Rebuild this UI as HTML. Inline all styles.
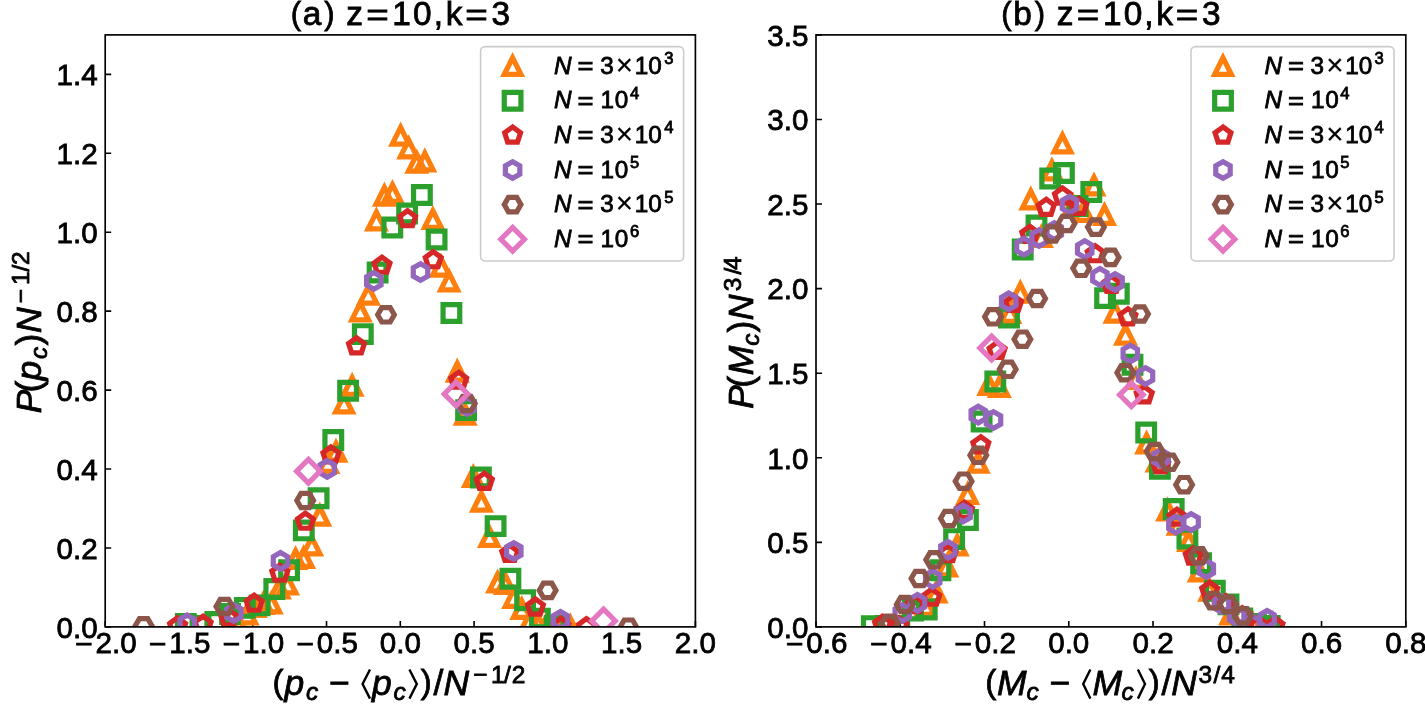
<!DOCTYPE html><html><head><meta charset="utf-8"><style>html,body{margin:0;padding:0;background:#fff;width:1425px;height:710px;overflow:hidden}svg{display:block;will-change:transform}text{font-family:"Liberation Sans",sans-serif;fill:#000;stroke:#000;stroke-width:0.8px}</style></head><body>
<svg width="1425" height="710" viewBox="0 0 1425 710">
<defs>
<path id="mtri" d="M0.00 -8.34 L-8.34 8.34 L8.34 8.34 Z" fill="none" stroke="#ff7f0e" stroke-width="5.20" stroke-linejoin="miter"/>
<path id="msq" d="M-8.34 -8.34 L8.34 -8.34 L8.34 8.34 L-8.34 8.34 Z" fill="none" stroke="#2ca02c" stroke-width="5.20" stroke-linejoin="miter"/>
<path id="mpent" d="M0.00 -8.34 L-7.93 -2.58 L-4.90 6.74 L4.90 6.74 L7.93 -2.58 Z" fill="none" stroke="#d62728" stroke-width="5.20" stroke-linejoin="miter"/>
<path id="mhexa" d="M0.00 -8.34 L-7.22 -4.17 L-7.22 4.17 L-0.00 8.34 L7.22 4.17 L7.22 -4.17 Z" fill="none" stroke="#9467bd" stroke-width="5.20" stroke-linejoin="miter"/>
<path id="mhexb" d="M8.34 -0.00 L4.17 -7.22 L-4.17 -7.22 L-8.34 -0.00 L-4.17 7.22 L4.17 7.22 Z" fill="none" stroke="#8c564b" stroke-width="5.20" stroke-linejoin="miter"/>
<path id="mdia" d="M0.00 -11.79 L11.79 0.00 L0.00 11.79 L-11.79 0.00 Z" fill="none" stroke="#e377c2" stroke-width="5.20" stroke-linejoin="miter"/>
<clipPath id="clipa"><rect x="105.20" y="34.90" width="590.20" height="592.00"/></clipPath>
<clipPath id="clipb"><rect x="816.00" y="34.90" width="589.80" height="592.00"/></clipPath>
</defs>
<rect width="1425" height="710" fill="#fff"/>
<path d="M105.20 626.90 V620.90 M178.97 626.90 V620.90 M252.75 626.90 V620.90 M326.52 626.90 V620.90 M400.30 626.90 V620.90 M474.07 626.90 V620.90 M547.85 626.90 V620.90 M621.62 626.90 V620.90 M695.40 626.90 V620.90 M105.20 626.90 H111.20 M105.20 547.97 H111.20 M105.20 469.03 H111.20 M105.20 390.10 H111.20 M105.20 311.17 H111.20 M105.20 232.23 H111.20 M105.20 153.30 H111.20 M105.20 74.37 H111.20" stroke="#000" stroke-width="1.6" fill="none"/>
<g clip-path="url(#clipa)">
<use href="#mtri" x="239.0" y="626.0"/>
<use href="#mtri" x="247.1" y="614.6"/>
<use href="#mtri" x="255.2" y="607.0"/>
<use href="#mtri" x="263.2" y="604.0"/>
<use href="#mtri" x="271.3" y="603.6"/>
<use href="#mtri" x="279.4" y="588.6"/>
<use href="#mtri" x="287.5" y="584.6"/>
<use href="#mtri" x="295.6" y="559.1"/>
<use href="#mtri" x="303.6" y="558.1"/>
<use href="#mtri" x="311.7" y="545.6"/>
<use href="#mtri" x="319.8" y="515.7"/>
<use href="#mtri" x="327.9" y="463.1"/>
<use href="#mtri" x="336.0" y="451.7"/>
<use href="#mtri" x="344.0" y="403.5"/>
<use href="#mtri" x="352.1" y="385.9"/>
<use href="#mtri" x="360.2" y="311.5"/>
<use href="#mtri" x="368.3" y="294.7"/>
<use href="#mtri" x="376.4" y="220.5"/>
<use href="#mtri" x="384.4" y="195.7"/>
<use href="#mtri" x="392.5" y="193.1"/>
<use href="#mtri" x="400.6" y="135.7"/>
<use href="#mtri" x="408.7" y="148.5"/>
<use href="#mtri" x="416.8" y="162.7"/>
<use href="#mtri" x="424.8" y="161.5"/>
<use href="#mtri" x="432.9" y="219.1"/>
<use href="#mtri" x="441.0" y="266.7"/>
<use href="#mtri" x="449.1" y="281.5"/>
<use href="#mtri" x="457.2" y="371.7"/>
<use href="#mtri" x="465.2" y="414.7"/>
<use href="#mtri" x="473.3" y="477.1"/>
<use href="#mtri" x="481.4" y="501.7"/>
<use href="#mtri" x="489.5" y="537.1"/>
<use href="#mtri" x="497.6" y="582.6"/>
<use href="#mtri" x="505.6" y="584.1"/>
<use href="#mtri" x="513.7" y="598.0"/>
<use href="#mtri" x="521.8" y="609.1"/>
<use href="#mtri" x="529.9" y="621.0"/>
<use href="#mtri" x="538.0" y="624.0"/>
<use href="#mtri" x="546.0" y="626.0"/>
<use href="#mtri" x="554.1" y="626.0"/>
<use href="#mtri" x="562.2" y="626.0"/>
<use href="#mtri" x="570.3" y="626.5"/>
<use href="#msq" x="185.8" y="623.9"/>
<use href="#msq" x="200.5" y="626.0"/>
<use href="#msq" x="215.3" y="621.9"/>
<use href="#msq" x="230.0" y="614.0"/>
<use href="#msq" x="244.8" y="607.9"/>
<use href="#msq" x="259.6" y="605.4"/>
<use href="#msq" x="274.3" y="589.0"/>
<use href="#msq" x="289.1" y="570.2"/>
<use href="#msq" x="303.8" y="530.4"/>
<use href="#msq" x="318.6" y="498.3"/>
<use href="#msq" x="333.3" y="440.0"/>
<use href="#msq" x="348.1" y="390.8"/>
<use href="#msq" x="362.8" y="334.1"/>
<use href="#msq" x="377.6" y="272.5"/>
<use href="#msq" x="392.3" y="227.5"/>
<use href="#msq" x="407.1" y="213.5"/>
<use href="#msq" x="421.9" y="195.0"/>
<use href="#msq" x="436.6" y="239.5"/>
<use href="#msq" x="451.4" y="313.0"/>
<use href="#msq" x="466.1" y="410.1"/>
<use href="#msq" x="480.9" y="477.5"/>
<use href="#msq" x="495.6" y="526.1"/>
<use href="#msq" x="510.4" y="578.7"/>
<use href="#msq" x="525.1" y="600.3"/>
<use href="#msq" x="539.9" y="618.6"/>
<use href="#msq" x="554.7" y="626.0"/>
<use href="#mpent" x="177.6" y="626.0"/>
<use href="#mpent" x="203.1" y="624.5"/>
<use href="#mpent" x="228.7" y="618.0"/>
<use href="#mpent" x="254.2" y="603.5"/>
<use href="#mpent" x="279.8" y="573.5"/>
<use href="#mpent" x="305.4" y="521.5"/>
<use href="#mpent" x="330.9" y="455.2"/>
<use href="#mpent" x="356.5" y="346.1"/>
<use href="#mpent" x="382.0" y="265.5"/>
<use href="#mpent" x="407.6" y="219.0"/>
<use href="#mpent" x="433.2" y="260.0"/>
<use href="#mpent" x="458.7" y="380.5"/>
<use href="#mpent" x="484.3" y="481.6"/>
<use href="#mpent" x="509.8" y="553.7"/>
<use href="#mpent" x="535.4" y="607.3"/>
<use href="#mpent" x="561.0" y="626.5"/>
<use href="#mpent" x="586.5" y="627.0"/>
<use href="#mhexa" x="187.2" y="623.3"/>
<use href="#mhexa" x="233.9" y="613.0"/>
<use href="#mhexa" x="280.5" y="560.8"/>
<use href="#mhexa" x="327.2" y="468.8"/>
<use href="#mhexa" x="373.8" y="280.8"/>
<use href="#mhexa" x="420.5" y="272.0"/>
<use href="#mhexa" x="467.2" y="406.0"/>
<use href="#mhexa" x="513.8" y="551.0"/>
<use href="#mhexa" x="560.5" y="619.8"/>
<use href="#mhexb" x="143.6" y="625.8"/>
<use href="#mhexb" x="224.4" y="606.5"/>
<use href="#mhexb" x="305.2" y="500.5"/>
<use href="#mhexb" x="386.0" y="314.8"/>
<use href="#mhexb" x="466.8" y="403.5"/>
<use href="#mhexb" x="547.6" y="590.4"/>
<use href="#mhexb" x="628.4" y="627.2"/>
<use href="#mdia" x="308.4" y="471.2"/>
<use href="#mdia" x="456.0" y="394.0"/>
<use href="#mdia" x="603.5" y="621.0"/>
</g>
<rect x="105.20" y="34.90" width="590.20" height="592.00" fill="none" stroke="#000" stroke-width="1.67" stroke-linejoin="miter"/>
<text x="83.80" y="654" font-size="29.6" text-anchor="middle" textLength="17.6" lengthAdjust="spacingAndGlyphs">−</text>
<text x="116.10" y="653.4" font-size="29.6" text-anchor="middle">2.0</text>
<text x="157.57" y="654" font-size="29.6" text-anchor="middle" textLength="17.6" lengthAdjust="spacingAndGlyphs">−</text>
<text x="189.88" y="653.4" font-size="29.6" text-anchor="middle">1.5</text>
<text x="231.35" y="654" font-size="29.6" text-anchor="middle" textLength="17.6" lengthAdjust="spacingAndGlyphs">−</text>
<text x="263.65" y="653.4" font-size="29.6" text-anchor="middle">1.0</text>
<text x="305.12" y="654" font-size="29.6" text-anchor="middle" textLength="17.6" lengthAdjust="spacingAndGlyphs">−</text>
<text x="337.42" y="653.4" font-size="29.6" text-anchor="middle">0.5</text>
<text x="400.30" y="653.4" font-size="29.6" text-anchor="middle">0.0</text>
<text x="474.07" y="653.4" font-size="29.6" text-anchor="middle">0.5</text>
<text x="547.85" y="653.4" font-size="29.6" text-anchor="middle">1.0</text>
<text x="621.62" y="653.4" font-size="29.6" text-anchor="middle">1.5</text>
<text x="695.40" y="653.4" font-size="29.6" text-anchor="middle">2.0</text>
<text x="97.70" y="637.70" font-size="29.6" text-anchor="end">0.0</text>
<text x="97.70" y="558.77" font-size="29.6" text-anchor="end">0.2</text>
<text x="97.70" y="479.83" font-size="29.6" text-anchor="end">0.4</text>
<text x="97.70" y="400.90" font-size="29.6" text-anchor="end">0.6</text>
<text x="97.70" y="321.97" font-size="29.6" text-anchor="end">0.8</text>
<text x="97.70" y="243.03" font-size="29.6" text-anchor="end">1.0</text>
<text x="97.70" y="164.10" font-size="29.6" text-anchor="end">1.2</text>
<text x="97.70" y="85.17" font-size="29.6" text-anchor="end">1.4</text>
<path d="M816.00 626.90 V620.90 M900.26 626.90 V620.90 M984.51 626.90 V620.90 M1068.77 626.90 V620.90 M1153.03 626.90 V620.90 M1237.29 626.90 V620.90 M1321.54 626.90 V620.90 M1405.80 626.90 V620.90 M816.00 626.90 H822.00 M816.00 542.33 H822.00 M816.00 457.76 H822.00 M816.00 373.19 H822.00 M816.00 288.61 H822.00 M816.00 204.04 H822.00 M816.00 119.47 H822.00 M816.00 34.90 H822.00" stroke="#000" stroke-width="1.6" fill="none"/>
<g clip-path="url(#clipb)">
<use href="#mtri" x="925.6" y="606.0"/>
<use href="#mtri" x="936.2" y="592.6"/>
<use href="#mtri" x="946.7" y="566.6"/>
<use href="#mtri" x="957.2" y="545.5"/>
<use href="#mtri" x="967.7" y="494.1"/>
<use href="#mtri" x="978.2" y="462.7"/>
<use href="#mtri" x="988.8" y="385.1"/>
<use href="#mtri" x="999.3" y="387.1"/>
<use href="#mtri" x="1009.8" y="313.1"/>
<use href="#mtri" x="1020.3" y="292.7"/>
<use href="#mtri" x="1030.8" y="199.5"/>
<use href="#mtri" x="1041.4" y="237.1"/>
<use href="#mtri" x="1051.9" y="170.5"/>
<use href="#mtri" x="1062.4" y="143.5"/>
<use href="#mtri" x="1072.9" y="206.0"/>
<use href="#mtri" x="1083.4" y="212.0"/>
<use href="#mtri" x="1094.0" y="185.6"/>
<use href="#mtri" x="1104.5" y="215.0"/>
<use href="#mtri" x="1115.0" y="312.7"/>
<use href="#mtri" x="1125.5" y="334.7"/>
<use href="#mtri" x="1136.0" y="379.1"/>
<use href="#mtri" x="1146.6" y="443.5"/>
<use href="#mtri" x="1157.1" y="461.5"/>
<use href="#mtri" x="1167.6" y="510.5"/>
<use href="#mtri" x="1178.1" y="524.7"/>
<use href="#mtri" x="1188.6" y="541.1"/>
<use href="#mtri" x="1199.2" y="571.5"/>
<use href="#mtri" x="1209.7" y="590.7"/>
<use href="#mtri" x="1230.7" y="614.6"/>
<use href="#mtri" x="1251.8" y="622.0"/>
<use href="#mtri" x="1272.8" y="624.0"/>
<use href="#msq" x="871.8" y="626.1"/>
<use href="#msq" x="885.5" y="626.0"/>
<use href="#msq" x="899.3" y="626.0"/>
<use href="#msq" x="913.0" y="610.5"/>
<use href="#msq" x="926.7" y="609.5"/>
<use href="#msq" x="940.4" y="570.3"/>
<use href="#msq" x="954.1" y="539.1"/>
<use href="#msq" x="967.9" y="520.0"/>
<use href="#msq" x="981.6" y="421.5"/>
<use href="#msq" x="995.3" y="381.5"/>
<use href="#msq" x="1009.0" y="317.5"/>
<use href="#msq" x="1022.7" y="249.5"/>
<use href="#msq" x="1036.5" y="225.5"/>
<use href="#msq" x="1050.2" y="178.5"/>
<use href="#msq" x="1063.9" y="173.0"/>
<use href="#msq" x="1077.6" y="206.0"/>
<use href="#msq" x="1091.3" y="192.0"/>
<use href="#msq" x="1105.1" y="298.1"/>
<use href="#msq" x="1118.8" y="293.7"/>
<use href="#msq" x="1132.5" y="364.8"/>
<use href="#msq" x="1146.2" y="432.5"/>
<use href="#msq" x="1159.9" y="468.7"/>
<use href="#msq" x="1173.7" y="509.0"/>
<use href="#msq" x="1187.4" y="538.5"/>
<use href="#msq" x="1201.1" y="563.3"/>
<use href="#msq" x="1214.8" y="590.7"/>
<use href="#msq" x="1228.5" y="604.4"/>
<use href="#msq" x="1242.3" y="618.4"/>
<use href="#msq" x="1256.0" y="624.0"/>
<use href="#msq" x="1269.7" y="626.0"/>
<use href="#mpent" x="882.6" y="624.5"/>
<use href="#mpent" x="899.0" y="626.0"/>
<use href="#mpent" x="915.4" y="605.0"/>
<use href="#mpent" x="931.7" y="597.5"/>
<use href="#mpent" x="948.0" y="554.0"/>
<use href="#mpent" x="964.4" y="510.6"/>
<use href="#mpent" x="980.8" y="445.1"/>
<use href="#mpent" x="997.1" y="350.7"/>
<use href="#mpent" x="1013.5" y="303.7"/>
<use href="#mpent" x="1029.8" y="234.6"/>
<use href="#mpent" x="1046.2" y="207.6"/>
<use href="#mpent" x="1062.5" y="196.3"/>
<use href="#mpent" x="1078.8" y="206.6"/>
<use href="#mpent" x="1095.2" y="254.0"/>
<use href="#mpent" x="1111.5" y="284.7"/>
<use href="#mpent" x="1127.9" y="317.1"/>
<use href="#mpent" x="1144.2" y="395.1"/>
<use href="#mpent" x="1160.6" y="465.0"/>
<use href="#mpent" x="1177.0" y="517.5"/>
<use href="#mpent" x="1193.3" y="556.3"/>
<use href="#mpent" x="1209.7" y="590.5"/>
<use href="#mpent" x="1226.0" y="604.0"/>
<use href="#mpent" x="1242.3" y="616.0"/>
<use href="#mpent" x="1258.7" y="626.0"/>
<use href="#mpent" x="1275.0" y="626.0"/>
<use href="#mhexa" x="902.3" y="613.0"/>
<use href="#mhexa" x="917.5" y="602.8"/>
<use href="#mhexa" x="932.7" y="578.8"/>
<use href="#mhexa" x="947.9" y="549.9"/>
<use href="#mhexa" x="963.1" y="513.5"/>
<use href="#mhexa" x="978.3" y="414.6"/>
<use href="#mhexa" x="993.5" y="420.0"/>
<use href="#mhexa" x="1008.7" y="301.3"/>
<use href="#mhexa" x="1023.9" y="246.6"/>
<use href="#mhexa" x="1039.1" y="238.0"/>
<use href="#mhexa" x="1054.3" y="231.0"/>
<use href="#mhexa" x="1069.5" y="204.5"/>
<use href="#mhexa" x="1084.7" y="249.2"/>
<use href="#mhexa" x="1099.9" y="276.8"/>
<use href="#mhexa" x="1115.1" y="282.0"/>
<use href="#mhexa" x="1130.3" y="353.5"/>
<use href="#mhexa" x="1145.5" y="376.0"/>
<use href="#mhexa" x="1160.7" y="458.0"/>
<use href="#mhexa" x="1175.9" y="524.6"/>
<use href="#mhexa" x="1191.1" y="522.0"/>
<use href="#mhexa" x="1206.3" y="569.0"/>
<use href="#mhexa" x="1221.5" y="604.0"/>
<use href="#mhexa" x="1236.7" y="616.0"/>
<use href="#mhexa" x="1251.9" y="624.0"/>
<use href="#mhexa" x="1267.1" y="618.8"/>
<use href="#mhexb" x="890.1" y="623.3"/>
<use href="#mhexb" x="904.8" y="604.5"/>
<use href="#mhexb" x="919.5" y="578.5"/>
<use href="#mhexb" x="934.2" y="559.8"/>
<use href="#mhexb" x="948.9" y="518.5"/>
<use href="#mhexb" x="963.6" y="481.2"/>
<use href="#mhexb" x="978.3" y="455.3"/>
<use href="#mhexb" x="993.0" y="316.8"/>
<use href="#mhexb" x="1007.7" y="369.3"/>
<use href="#mhexb" x="1022.4" y="339.2"/>
<use href="#mhexb" x="1037.1" y="298.5"/>
<use href="#mhexb" x="1051.8" y="234.0"/>
<use href="#mhexb" x="1066.5" y="223.5"/>
<use href="#mhexb" x="1081.2" y="268.3"/>
<use href="#mhexb" x="1095.9" y="227.1"/>
<use href="#mhexb" x="1110.6" y="257.4"/>
<use href="#mhexb" x="1125.3" y="372.7"/>
<use href="#mhexb" x="1140.0" y="314.0"/>
<use href="#mhexb" x="1154.7" y="451.5"/>
<use href="#mhexb" x="1169.4" y="462.3"/>
<use href="#mhexb" x="1184.1" y="484.7"/>
<use href="#mhexb" x="1198.8" y="555.8"/>
<use href="#mhexb" x="1213.5" y="600.6"/>
<use href="#mhexb" x="1228.2" y="604.4"/>
<use href="#mhexb" x="1242.9" y="615.8"/>
<use href="#mdia" x="991.6" y="348.0"/>
<use href="#mdia" x="1131.4" y="394.8"/>
</g>
<rect x="816.00" y="34.90" width="589.80" height="592.00" fill="none" stroke="#000" stroke-width="1.67" stroke-linejoin="miter"/>
<text x="794.60" y="654" font-size="29.6" text-anchor="middle" textLength="17.6" lengthAdjust="spacingAndGlyphs">−</text>
<text x="826.90" y="653.4" font-size="29.6" text-anchor="middle">0.6</text>
<text x="878.86" y="654" font-size="29.6" text-anchor="middle" textLength="17.6" lengthAdjust="spacingAndGlyphs">−</text>
<text x="911.16" y="653.4" font-size="29.6" text-anchor="middle">0.4</text>
<text x="963.11" y="654" font-size="29.6" text-anchor="middle" textLength="17.6" lengthAdjust="spacingAndGlyphs">−</text>
<text x="995.41" y="653.4" font-size="29.6" text-anchor="middle">0.2</text>
<text x="1068.77" y="653.4" font-size="29.6" text-anchor="middle">0.0</text>
<text x="1153.03" y="653.4" font-size="29.6" text-anchor="middle">0.2</text>
<text x="1237.29" y="653.4" font-size="29.6" text-anchor="middle">0.4</text>
<text x="1321.54" y="653.4" font-size="29.6" text-anchor="middle">0.6</text>
<text x="1405.80" y="653.4" font-size="29.6" text-anchor="middle">0.8</text>
<text x="808.50" y="637.70" font-size="29.6" text-anchor="end">0.0</text>
<text x="808.50" y="553.13" font-size="29.6" text-anchor="end">0.5</text>
<text x="808.50" y="468.56" font-size="29.6" text-anchor="end">1.0</text>
<text x="808.50" y="383.99" font-size="29.6" text-anchor="end">1.5</text>
<text x="808.50" y="299.41" font-size="29.6" text-anchor="end">2.0</text>
<text x="808.50" y="214.84" font-size="29.6" text-anchor="end">2.5</text>
<text x="808.50" y="130.27" font-size="29.6" text-anchor="end">3.0</text>
<text x="808.50" y="45.70" font-size="29.6" text-anchor="end">3.5</text>
<text x="295.90" y="23.80" font-size="31.00" text-anchor="middle">(</text>
<text x="329.40" y="23.80" font-size="31.00" text-anchor="middle">)</text>
<text x="312.05" y="25.00" font-size="33.40" text-anchor="middle">a</text>
<text x="354.60" y="25.00" font-size="33.40" text-anchor="middle">z</text>
<text x="401.65" y="25.00" font-size="33.40" text-anchor="middle">1</text>
<text x="422.40" y="25.00" font-size="33.40" text-anchor="middle">0</text>
<text x="438.35" y="25.00" font-size="33.40" text-anchor="middle">,</text>
<text x="454.05" y="25.00" font-size="33.40" text-anchor="middle">k</text>
<text x="500.70" y="25.00" font-size="33.40" text-anchor="middle">3</text>
<text x="377.40" y="24.50" font-size="30.00" text-anchor="middle" textLength="22.50" lengthAdjust="spacingAndGlyphs">=</text>
<text x="476.50" y="24.50" font-size="30.00" text-anchor="middle" textLength="22.50" lengthAdjust="spacingAndGlyphs">=</text>
<text x="1006.50" y="23.80" font-size="31.00" text-anchor="middle">(</text>
<text x="1040.00" y="23.80" font-size="31.00" text-anchor="middle">)</text>
<text x="1022.65" y="25.00" font-size="33.40" text-anchor="middle">b</text>
<text x="1065.20" y="25.00" font-size="33.40" text-anchor="middle">z</text>
<text x="1112.25" y="25.00" font-size="33.40" text-anchor="middle">1</text>
<text x="1133.00" y="25.00" font-size="33.40" text-anchor="middle">0</text>
<text x="1148.95" y="25.00" font-size="33.40" text-anchor="middle">,</text>
<text x="1164.65" y="25.00" font-size="33.40" text-anchor="middle">k</text>
<text x="1211.30" y="25.00" font-size="33.40" text-anchor="middle">3</text>
<text x="1088.00" y="24.50" font-size="30.00" text-anchor="middle" textLength="22.50" lengthAdjust="spacingAndGlyphs">=</text>
<text x="1187.10" y="24.50" font-size="30.00" text-anchor="middle" textLength="22.50" lengthAdjust="spacingAndGlyphs">=</text>
<text x="278.00" y="693.30" font-size="33.00" text-anchor="middle">(</text>
<text x="294.35" y="694.80" font-size="35.50" text-anchor="middle" font-style="italic">p</text>
<text x="312.10" y="700.30" font-size="24.50" text-anchor="middle" font-style="italic">c</text>
<text x="339.40" y="694.80" font-size="35.50" text-anchor="middle">−</text>
<path d="M370.00 669.50 L362.60 684.05 L370.00 698.60" fill="none" stroke="#000" stroke-width="2.40" stroke-linejoin="miter"/>
<text x="381.95" y="694.80" font-size="35.50" text-anchor="middle" font-style="italic">p</text>
<text x="399.70" y="700.30" font-size="24.50" text-anchor="middle" font-style="italic">c</text>
<path d="M409.40 669.50 L416.80 684.05 L409.40 698.60" fill="none" stroke="#000" stroke-width="2.40" stroke-linejoin="miter"/>
<text x="426.30" y="693.30" font-size="33.00" text-anchor="middle">)</text>
<text x="438.35" y="694.80" font-size="35.50" text-anchor="middle">/</text>
<text x="456.30" y="694.80" font-size="35.50" text-anchor="middle" font-style="italic">N</text>
<text x="480.50" y="682.50" font-size="24.50" text-anchor="middle">−</text>
<text x="497.80" y="682.50" font-size="24.50" text-anchor="middle">1</text>
<text x="507.50" y="682.50" font-size="24.50" text-anchor="middle">/</text>
<text x="518.65" y="682.50" font-size="24.50" text-anchor="middle">2</text>
<text x="990.85" y="693.30" font-size="33.00" text-anchor="middle">(</text>
<text x="1011.70" y="694.80" font-size="35.50" text-anchor="middle" font-style="italic">M</text>
<text x="1032.55" y="700.30" font-size="24.50" text-anchor="middle" font-style="italic">c</text>
<text x="1059.80" y="694.80" font-size="35.50" text-anchor="middle">−</text>
<path d="M1090.40 669.50 L1083.20 684.05 L1090.40 698.60" fill="none" stroke="#000" stroke-width="2.40" stroke-linejoin="miter"/>
<text x="1107.25" y="694.80" font-size="35.50" text-anchor="middle" font-style="italic">M</text>
<text x="1127.70" y="700.30" font-size="24.50" text-anchor="middle" font-style="italic">c</text>
<path d="M1137.90 669.50 L1145.00 684.05 L1137.90 698.60" fill="none" stroke="#000" stroke-width="2.40" stroke-linejoin="miter"/>
<text x="1154.30" y="693.30" font-size="33.00" text-anchor="middle">)</text>
<text x="1166.35" y="694.80" font-size="35.50" text-anchor="middle">/</text>
<text x="1184.10" y="694.80" font-size="35.50" text-anchor="middle" font-style="italic">N</text>
<text x="1205.40" y="682.50" font-size="24.50" text-anchor="middle">3</text>
<text x="1217.00" y="682.50" font-size="24.50" text-anchor="middle">/</text>
<text x="1228.15" y="682.50" font-size="24.50" text-anchor="middle">4</text>
<g transform="translate(41.30 331.00) rotate(-90)">
<text x="-70.30" y="0.00" font-size="35.50" text-anchor="middle" font-style="italic">P</text>
<text x="-55.55" y="0.00" font-size="35.50" text-anchor="middle">(</text>
<text x="-39.70" y="0.00" font-size="35.50" text-anchor="middle" font-style="italic">p</text>
<text x="-21.75" y="5.50" font-size="24.50" text-anchor="middle" font-style="italic">c</text>
<text x="-8.70" y="0.00" font-size="35.50" text-anchor="middle">)</text>
<text x="10.75" y="0.00" font-size="35.50" text-anchor="middle" font-style="italic">N</text>
<text x="34.80" y="-12.00" font-size="24.50" text-anchor="middle">−</text>
<text x="52.95" y="-12.00" font-size="24.50" text-anchor="middle">1</text>
<text x="63.00" y="-12.00" font-size="24.50" text-anchor="middle">/</text>
<text x="72.95" y="-12.00" font-size="24.50" text-anchor="middle">2</text>
</g>
<g transform="translate(753.20 331.00) rotate(-90)">
<text x="-65.80" y="0.00" font-size="35.50" text-anchor="middle" font-style="italic">P</text>
<text x="-50.80" y="0.00" font-size="35.50" text-anchor="middle">(</text>
<text x="-29.45" y="0.00" font-size="35.50" text-anchor="middle" font-style="italic">M</text>
<text x="-8.60" y="5.50" font-size="24.50" text-anchor="middle" font-style="italic">c</text>
<text x="4.50" y="0.00" font-size="35.50" text-anchor="middle">)</text>
<text x="23.55" y="0.00" font-size="35.50" text-anchor="middle" font-style="italic">N</text>
<text x="46.65" y="-12.50" font-size="24.50" text-anchor="middle">3</text>
<text x="59.90" y="-12.50" font-size="24.50" text-anchor="middle">/</text>
<text x="67.90" y="-12.50" font-size="24.50" text-anchor="middle">4</text>
</g>
<rect x="480.60" y="46.6" width="203.0" height="214.4" rx="4.5" ry="4.5" fill="#fff" fill-opacity="0.8" stroke="#cccccc" stroke-width="1.6"/>
<use href="#mtri" x="512.60" y="66.10"/>
<text x="562.75" y="73.70" font-size="24.30" text-anchor="middle" font-style="italic">N</text>
<text x="585.60" y="74.10" font-size="24.50" text-anchor="middle" textLength="16.00" lengthAdjust="spacingAndGlyphs">=</text>
<text x="606.95" y="73.70" font-size="24.30" text-anchor="middle">3</text>
<text x="624.40" y="74.50" font-size="29.50" text-anchor="middle" style="stroke-width:0.2px">×</text>
<text x="641.60" y="73.70" font-size="24.30" text-anchor="middle">1</text>
<text x="655.05" y="73.70" font-size="24.30" text-anchor="middle">0</text>
<text x="668.75" y="64.10" font-size="16.60" text-anchor="middle">3</text>
<use href="#msq" x="512.60" y="100.73"/>
<text x="562.75" y="108.33" font-size="24.30" text-anchor="middle" font-style="italic">N</text>
<text x="585.60" y="108.73" font-size="24.50" text-anchor="middle" textLength="16.00" lengthAdjust="spacingAndGlyphs">=</text>
<text x="607.35" y="108.33" font-size="24.30" text-anchor="middle">1</text>
<text x="621.60" y="108.33" font-size="24.30" text-anchor="middle">0</text>
<text x="634.50" y="98.73" font-size="16.60" text-anchor="middle">4</text>
<use href="#mpent" x="512.60" y="135.36"/>
<text x="562.75" y="142.96" font-size="24.30" text-anchor="middle" font-style="italic">N</text>
<text x="585.60" y="143.36" font-size="24.50" text-anchor="middle" textLength="16.00" lengthAdjust="spacingAndGlyphs">=</text>
<text x="606.95" y="142.96" font-size="24.30" text-anchor="middle">3</text>
<text x="624.40" y="143.76" font-size="29.50" text-anchor="middle" style="stroke-width:0.2px">×</text>
<text x="641.60" y="142.96" font-size="24.30" text-anchor="middle">1</text>
<text x="655.05" y="142.96" font-size="24.30" text-anchor="middle">0</text>
<text x="668.75" y="133.36" font-size="16.60" text-anchor="middle">4</text>
<use href="#mhexa" x="512.60" y="169.99"/>
<text x="562.75" y="177.59" font-size="24.30" text-anchor="middle" font-style="italic">N</text>
<text x="585.60" y="177.99" font-size="24.50" text-anchor="middle" textLength="16.00" lengthAdjust="spacingAndGlyphs">=</text>
<text x="607.35" y="177.59" font-size="24.30" text-anchor="middle">1</text>
<text x="621.60" y="177.59" font-size="24.30" text-anchor="middle">0</text>
<text x="634.50" y="167.99" font-size="16.60" text-anchor="middle">5</text>
<use href="#mhexb" x="512.60" y="204.62"/>
<text x="562.75" y="212.22" font-size="24.30" text-anchor="middle" font-style="italic">N</text>
<text x="585.60" y="212.62" font-size="24.50" text-anchor="middle" textLength="16.00" lengthAdjust="spacingAndGlyphs">=</text>
<text x="606.95" y="212.22" font-size="24.30" text-anchor="middle">3</text>
<text x="624.40" y="213.02" font-size="29.50" text-anchor="middle" style="stroke-width:0.2px">×</text>
<text x="641.60" y="212.22" font-size="24.30" text-anchor="middle">1</text>
<text x="655.05" y="212.22" font-size="24.30" text-anchor="middle">0</text>
<text x="668.75" y="202.62" font-size="16.60" text-anchor="middle">5</text>
<use href="#mdia" x="512.60" y="239.25"/>
<text x="562.75" y="246.85" font-size="24.30" text-anchor="middle" font-style="italic">N</text>
<text x="585.60" y="247.25" font-size="24.50" text-anchor="middle" textLength="16.00" lengthAdjust="spacingAndGlyphs">=</text>
<text x="607.35" y="246.85" font-size="24.30" text-anchor="middle">1</text>
<text x="621.60" y="246.85" font-size="24.30" text-anchor="middle">0</text>
<text x="634.50" y="237.25" font-size="16.60" text-anchor="middle">6</text>
<rect x="1191.00" y="46.6" width="203.0" height="214.4" rx="4.5" ry="4.5" fill="#fff" fill-opacity="0.8" stroke="#cccccc" stroke-width="1.6"/>
<use href="#mtri" x="1223.00" y="66.10"/>
<text x="1273.15" y="73.70" font-size="24.30" text-anchor="middle" font-style="italic">N</text>
<text x="1296.00" y="74.10" font-size="24.50" text-anchor="middle" textLength="16.00" lengthAdjust="spacingAndGlyphs">=</text>
<text x="1317.35" y="73.70" font-size="24.30" text-anchor="middle">3</text>
<text x="1334.80" y="74.50" font-size="29.50" text-anchor="middle" style="stroke-width:0.2px">×</text>
<text x="1352.00" y="73.70" font-size="24.30" text-anchor="middle">1</text>
<text x="1365.45" y="73.70" font-size="24.30" text-anchor="middle">0</text>
<text x="1379.15" y="64.10" font-size="16.60" text-anchor="middle">3</text>
<use href="#msq" x="1223.00" y="100.73"/>
<text x="1273.15" y="108.33" font-size="24.30" text-anchor="middle" font-style="italic">N</text>
<text x="1296.00" y="108.73" font-size="24.50" text-anchor="middle" textLength="16.00" lengthAdjust="spacingAndGlyphs">=</text>
<text x="1317.75" y="108.33" font-size="24.30" text-anchor="middle">1</text>
<text x="1332.00" y="108.33" font-size="24.30" text-anchor="middle">0</text>
<text x="1344.90" y="98.73" font-size="16.60" text-anchor="middle">4</text>
<use href="#mpent" x="1223.00" y="135.36"/>
<text x="1273.15" y="142.96" font-size="24.30" text-anchor="middle" font-style="italic">N</text>
<text x="1296.00" y="143.36" font-size="24.50" text-anchor="middle" textLength="16.00" lengthAdjust="spacingAndGlyphs">=</text>
<text x="1317.35" y="142.96" font-size="24.30" text-anchor="middle">3</text>
<text x="1334.80" y="143.76" font-size="29.50" text-anchor="middle" style="stroke-width:0.2px">×</text>
<text x="1352.00" y="142.96" font-size="24.30" text-anchor="middle">1</text>
<text x="1365.45" y="142.96" font-size="24.30" text-anchor="middle">0</text>
<text x="1379.15" y="133.36" font-size="16.60" text-anchor="middle">4</text>
<use href="#mhexa" x="1223.00" y="169.99"/>
<text x="1273.15" y="177.59" font-size="24.30" text-anchor="middle" font-style="italic">N</text>
<text x="1296.00" y="177.99" font-size="24.50" text-anchor="middle" textLength="16.00" lengthAdjust="spacingAndGlyphs">=</text>
<text x="1317.75" y="177.59" font-size="24.30" text-anchor="middle">1</text>
<text x="1332.00" y="177.59" font-size="24.30" text-anchor="middle">0</text>
<text x="1344.90" y="167.99" font-size="16.60" text-anchor="middle">5</text>
<use href="#mhexb" x="1223.00" y="204.62"/>
<text x="1273.15" y="212.22" font-size="24.30" text-anchor="middle" font-style="italic">N</text>
<text x="1296.00" y="212.62" font-size="24.50" text-anchor="middle" textLength="16.00" lengthAdjust="spacingAndGlyphs">=</text>
<text x="1317.35" y="212.22" font-size="24.30" text-anchor="middle">3</text>
<text x="1334.80" y="213.02" font-size="29.50" text-anchor="middle" style="stroke-width:0.2px">×</text>
<text x="1352.00" y="212.22" font-size="24.30" text-anchor="middle">1</text>
<text x="1365.45" y="212.22" font-size="24.30" text-anchor="middle">0</text>
<text x="1379.15" y="202.62" font-size="16.60" text-anchor="middle">5</text>
<use href="#mdia" x="1223.00" y="239.25"/>
<text x="1273.15" y="246.85" font-size="24.30" text-anchor="middle" font-style="italic">N</text>
<text x="1296.00" y="247.25" font-size="24.50" text-anchor="middle" textLength="16.00" lengthAdjust="spacingAndGlyphs">=</text>
<text x="1317.75" y="246.85" font-size="24.30" text-anchor="middle">1</text>
<text x="1332.00" y="246.85" font-size="24.30" text-anchor="middle">0</text>
<text x="1344.90" y="237.25" font-size="16.60" text-anchor="middle">6</text>
</svg></body></html>
